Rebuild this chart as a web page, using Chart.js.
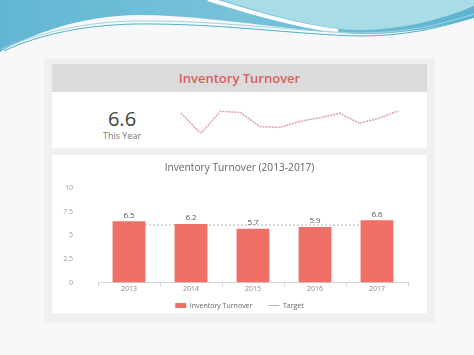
<!DOCTYPE html>
<html><head><meta charset="utf-8">
<script src="https://cdn.jsdelivr.net/npm/chart.js@4/dist/chart.umd.min.js"></script>
<style>
html,body{margin:0;padding:0;}
body{width:474px;height:355px;background:#f8f8fa;position:relative;overflow:hidden;font-family:"Open Sans",sans-serif;}
#wave{position:absolute;left:0;top:0;}
#panel{position:absolute;left:44px;top:58px;width:391px;height:265px;background:#f0eff2;}
#hdr{position:absolute;left:52px;top:64px;width:375px;height:28px;background:#dcdbdc;color:#d4615b;font-size:13px;font-weight:600;text-align:center;line-height:28px;}
#card1{position:absolute;left:52px;top:92px;width:375px;height:56px;background:#fff;}
#card2{position:absolute;left:52px;top:155px;width:375px;height:158px;background:#fff;}
#big{position:absolute;left:82px;width:80px;top:106px;text-align:center;font-size:20px;line-height:26px;color:#444;font-weight:500;}
#sub{position:absolute;left:82px;width:80px;top:130px;text-align:center;font-size:9px;line-height:12px;color:#777;}
#spark{position:absolute;left:178px;top:108px;}
#bars{position:absolute;left:52px;top:155px;}
</style></head>
<body>
<svg id="wave" width="474" height="60" viewBox="0 0 474 60">
  <defs>
    <linearGradient id="g1" x1="0" y1="0" x2="1" y2="0">
      <stop offset="0" stop-color="#62b6d4"/>
      <stop offset="0.5" stop-color="#78c2da"/>
      <stop offset="1" stop-color="#5db3d2"/>
    </linearGradient>
  </defs>
  <path d="M0,0 H474 V18 C440,27 405,34 365,34 C300,33 220,16 140,15 C80,15 30,35 0,52 Z" fill="url(#g1)"/>
  <path d="M222,0 C262,12 300,24 340,29 C385,33 430,24 474,6 V0 Z" fill="#a8dce6"/>
  <path d="M208,-1 C250,12 292,25 338,31" fill="none" stroke="#ffffff" stroke-width="4"/>
  <path d="M4,51 C40,34 85,25 135,24 C220,23 300,35 360,36 C405,36 440,28 474,17" fill="none" stroke="#4db2c8" stroke-width="1"/>
  <path d="M2,49 C40,32 85,22 135,21 C220,20 300,32 360,33 C405,33 440,25 474,14" fill="none" stroke="#9fd6e2" stroke-width="1"/>
</svg>
<div id="panel"></div>
<div id="hdr">Inventory Turnover</div>
<div id="card1"></div>
<div id="card2"></div>
<div id="big">6.6</div>
<div id="sub">This Year</div>
<canvas id="spark" width="224" height="28"></canvas>
<canvas id="bars" width="375" height="158"></canvas>
<script>
const years = ['2013','2014','2015','2016','2017'];
const turnover = [6.5, 6.2, 5.7, 5.9, 6.6];
const target = [6.1, 6.1, 6.1, 6.1, 6.1];
const sparkLabels = ['1','2','3','4','5','6','7','8','9','10','11','12'];
const sparkValues = [6.55, 5.55, 6.65, 6.58, 5.88, 5.85, 6.15, 6.32, 6.55, 6.05, 6.3, 6.68];
const yTickStep = 2.5;
const yMax = 10;

Chart.defaults.font.family = '"Open Sans", sans-serif';

new Chart(document.getElementById('spark'), {
  type: 'line',
  data: { labels: sparkLabels, datasets: [{ data: sparkValues, borderColor: '#d9a0a6', borderWidth: 1.5, borderDash: [2, 1], pointRadius: 0, tension: 0, fill: false }] },
  options: {
    responsive: false, animation: false,
    layout: { padding: { left: 3, right: 3, top: 2.5, bottom: 2.5 } },
    plugins: { legend: { display: false }, tooltip: { enabled: false } },
    scales: {
      x: { display: false },
      y: { display: false, min: 5.55, max: 6.68 }
    }
  }
});

const valueLabels = {
  id: 'valueLabels',
  afterDatasetsDraw(chart) {
    const ctx = chart.ctx;
    const meta = chart.getDatasetMeta(0);
    ctx.save();
    ctx.font = '8px "Open Sans", sans-serif';
    ctx.fillStyle = '#555';
    ctx.textAlign = 'center';
    ctx.textBaseline = 'middle';
    meta.data.forEach((bar, i) => {
      ctx.fillText(turnover[i].toFixed(1), bar.x, bar.y - 6);
    });
    ctx.restore();
  }
};

const legendShift = {
  id: 'legendShift',
  afterLayout(chart) {
    if (chart.legend) { chart.legend.top -= 10; chart.legend.bottom -= 10; }
  }
};

new Chart(document.getElementById('bars'), {
  type: 'bar',
  data: {
    labels: years,
    datasets: [
      { label: 'Inventory Turnover', data: turnover, backgroundColor: '#f07067', barPercentage: 0.53, categoryPercentage: 1, order: 1, pointStyle: 'rect' },
      { type: 'line', label: 'Target', data: target, borderColor: '#b5b5b5', borderWidth: 1, borderDash: [2, 2], pointRadius: 0, fill: false, order: 2, pointStyle: 'line' }
    ]
  },
  options: {
    responsive: false, animation: false,
    layout: { padding: { left: 0, right: 0, top: 0, bottom: -16 } },
    plugins: {
      title: { display: true, text: 'Inventory Turnover (2013-2017)', color: '#666', font: { size: 10.2, weight: 'normal' }, padding: { top: 7, bottom: 14 } },
      legend: { position: 'bottom', labels: { usePointStyle: true, pointStyleWidth: 11, boxHeight: 5, color: '#666', font: { size: 7 }, padding: 16 } },
      tooltip: { enabled: false }
    },
    scales: {
      x: {
        grid: { display: true, drawOnChartArea: false, drawTicks: true, tickLength: 4, color: '#d5d5d5', offset: true },
        border: { display: true, color: '#d5d5d5' },
        afterFit(s) { s.height += 5; },
        ticks: { color: '#888', font: { size: 7 }, padding: -2 }
      },
      y: {
        min: 0, max: yMax,
        grid: { display: false },
        border: { display: false },
        afterFit(s) { s.width = 46; },
        ticks: { stepSize: yTickStep, color: '#999', font: { size: 7 }, padding: 17 }
      },
      y2: {
        position: 'right',
        grid: { display: false },
        border: { display: false },
        ticks: { display: false },
        afterFit(s) { s.width = 19; }
      }
    }
  },
  plugins: [valueLabels, legendShift]
});
</script>
</body></html>
